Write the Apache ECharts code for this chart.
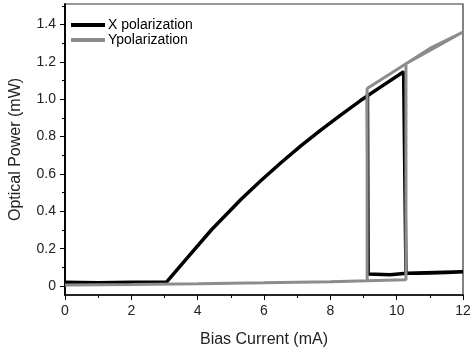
<!DOCTYPE html>
<html>
<head>
<meta charset="utf-8">
<script src="https://cdn.jsdelivr.net/npm/echarts@6/dist/echarts.min.js"></script>
<style>
  html, body { margin: 0; padding: 0; background: #fff; }
  #chart { width: 474px; height: 353px; }
</style>
</head>
<body>
<div id="chart"></div>
<script>
// X polarization: up sweep, drop at ~10.28 mA, low branch to 12 mA, back down to ~9.12 mA and jump up
var xPolCurrent = [0, 1, 2, 3.06, 3.66, 4.41, 5.31, 5.91, 6.51, 7.11, 7.71, 8.31, 8.91, 9.51, 10.21,
                   10.28, 10.6, 11.0, 11.5, 12.0, 10.3, 9.8, 9.14, 9.12];
var xPolPower   = [0.02, 0.018, 0.02, 0.021, 0.145, 0.30, 0.465, 0.565, 0.66, 0.75, 0.835, 0.915, 0.993, 1.065, 1.147,
                   0.07, 0.068, 0.07, 0.072, 0.076, 0.068, 0.06, 0.065, 1.03];
// Y polarization
var yPolCurrent = [0, 2, 4, 6, 8, 9.11, 10.28, 10.28, 11.0, 12.0, 10.28, 9.11, 9.11];
var yPolPower   = [0.005, 0.008, 0.012, 0.017, 0.023, 0.028, 0.033, 1.19, 1.272, 1.36, 1.19, 1.058, 0.028];

var yMajorTicks = [0, 0.2, 0.4, 0.6, 0.8, 1.0, 1.2, 1.4];
var yMinorTicks = [0.1, 0.3, 0.5, 0.7, 0.9, 1.1, 1.3, 1.5];

function pairs(xs, ys) {
  return xs.map(function (x, i) { return [x, ys[i]]; });
}

var chart = echarts.init(document.getElementById('chart'));
var font = 'Liberation Sans, Arial, sans-serif';

var yBase = {
  type: 'value',
  min: -0.048,
  max: 1.51,
  splitLine: { show: false },
  axisLine: { show: true, onZero: false, lineStyle: { color: '#000', width: 1.5 } }
};

var option = {
  animation: false,
  grid: {
    left: 63, right: 11, top: 4, bottom: 55,
    show: true, borderColor: '#333', borderWidth: 1.2
  },
  legend: {
    orient: 'vertical',
    left: 66, top: 13,
    itemWidth: 34, itemHeight: 4, itemGap: 1,
    icon: 'rect',
    textStyle: { fontFamily: font, fontSize: 14, color: '#000', padding: [0, 0, 0, -2] },
    data: ['X polarization', 'Ypolarization']
  },
  xAxis: {
    type: 'value',
    min: 0, max: 12, interval: 2,
    name: 'Bias Current (mA)',
    nameLocation: 'middle',
    nameGap: 37,
    nameTextStyle: { fontFamily: font, fontSize: 16, color: '#222' },
    axisLine: { onZero: false, lineStyle: { color: '#000', width: 1.5 } },
    axisTick: { inside: false, length: 5, lineStyle: { color: '#000' } },
    minorTick: { show: true, splitNumber: 2, length: 3, lineStyle: { color: '#000' } },
    axisLabel: { fontFamily: font, fontSize: 14, color: '#222', margin: 9 },
    splitLine: { show: false }
  },
  yAxis: [
    Object.assign({}, yBase, {
      name: 'Optical Power (mW)',
      nameLocation: 'middle',
      nameGap: 41,
      nameTextStyle: { fontFamily: font, fontSize: 16, color: '#222' },
      axisTick: { show: true, inside: false, length: 5, customValues: yMajorTicks, lineStyle: { color: '#000' } },
      axisLabel: {
        fontFamily: font, fontSize: 14, color: '#222', margin: 9,
        customValues: yMajorTicks,
        formatter: function (v) { return v === 0 ? '0' : v.toFixed(1); }
      }
    }),
    Object.assign({}, yBase, {
      position: 'left',
      axisTick: { show: true, inside: false, length: 3, customValues: yMinorTicks, lineStyle: { color: '#000' } },
      axisLabel: { show: false }
    })
  ],
  series: [
    {
      name: 'X polarization',
      type: 'line',
      symbol: 'none',
      color: '#000',
      lineStyle: { width: 3.5, color: '#000' },
      data: pairs(xPolCurrent, xPolPower)
    },
    {
      name: 'Ypolarization',
      type: 'line',
      symbol: 'none',
      color: '#8c8c8c',
      lineStyle: { width: 3, color: '#8c8c8c' },
      data: pairs(yPolCurrent, yPolPower)
    }
  ]
};

chart.setOption(option);
</script>
</body>
</html>
